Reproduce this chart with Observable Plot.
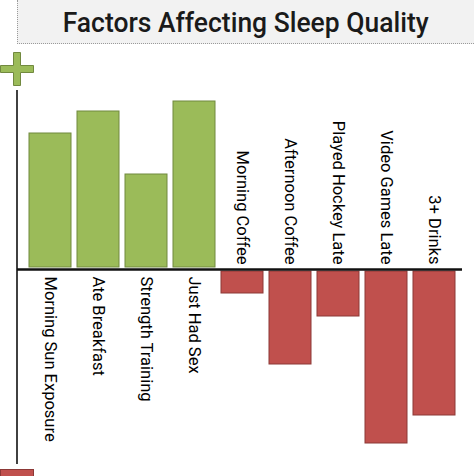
<!DOCTYPE html>
<html>
<head>
<meta charset="utf-8">
<script src="https://cdn.jsdelivr.net/npm/d3@7"></script>
<script src="https://cdn.jsdelivr.net/npm/@observablehq/plot@0.6"></script>
<style>
  html, body { margin: 0; padding: 0; background: #fff; }
  #wrap { position: relative; width: 474px; height: 476px; overflow: hidden; }
  #title {
    position: absolute; left: 17px; top: 0; width: 457px; height: 44px;
    background: #f2f2f2; border-left: 1px dotted #9a9a9a; border-bottom: 1px dotted #9a9a9a;
    box-sizing: border-box; text-align: center;
  }
  #title span {
    display: inline-block; font-family: Roboto, sans-serif; font-size: 28px; font-weight: 500;
    color: #1a1a1a; line-height: 46px; white-space: nowrap; transform-origin: center;
  }
  #plus { position: absolute; left: 0; top: 52px; }
  #minus { position: absolute; left: 0; top: 468px; }
  #chart { position: absolute; left: 0; top: 0; }
</style>
</head>
<body>
<div id="wrap">
  <div id="chart"></div>
  <div id="title"><span id="titletext">Factors Affecting Sleep Quality</span></div>
  <svg id="plus" width="34" height="34"><path d="M13.5,0.5 H20.5 V13.5 H33.5 V20.5 H20.5 V33.5 H13.5 V20.5 H0.5 V13.5 H13.5 Z" fill="#9BBB59" stroke="#71893F" stroke-width="1"/></svg>
  <svg id="minus" width="34" height="10"><rect x="0.5" y="1.5" width="33" height="9" fill="#C0504D" stroke="#8C3836" stroke-width="1"/></svg>
</div>
<script>
const categories = ["Morning Sun Exposure", "Ate Breakfast", "Strength Training", "Just Had Sex",
  "Morning Coffee", "Afternoon Coffee", "Played Hockey Late", "Video Games Late", "3+ Drinks"];
const values = [136, 158, 95, 168, -24, -95, -47, -174, -146];

const data = categories.map((c, i) => ({category: c, value: values[i]}));
const pos = data.filter(d => d.value >= 0);
const neg = data.filter(d => d.value < 0);

const chart = Plot.plot({
  width: 474,
  height: 476,
  marginLeft: 17,
  marginRight: 12,
  marginTop: 90,
  marginBottom: 12,
  style: {fontFamily: "Roboto, sans-serif", background: "transparent"},
  x: {domain: categories, paddingInner: 0.12, paddingOuter: 0.06, insetLeft: 6, axis: null},
  y: {domain: [-195, 179], axis: null},
  marks: [
    Plot.barY(pos, {x: "category", y: "value", fill: "#9BBB59", stroke: "#71893F", strokeWidth: 1, insetBottom: 2}),
    Plot.barY(neg, {x: "category", y: "value", fill: "#C0504D", stroke: "#8C3836", strokeWidth: 1, insetTop: 2}),
    Plot.ruleY([0], {stroke: "#111", strokeWidth: 2.5}),
    Plot.text(pos, {x: "category", y: 0, text: "category", rotate: 90, textAnchor: "start", dy: 7, fontSize: 16.5, fill: "#000"}),
    Plot.text(neg, {x: "category", y: 0, text: "category", rotate: 90, textAnchor: "end", dy: -5, fontSize: 16.5, fill: "#000"})
  ]
});

// vertical axis line along the y scale range
const yr = chart.scale("y").range;
d3.select(chart).append("line")
  .attr("x1", 17).attr("x2", 17)
  .attr("y1", yr[0]).attr("y2", yr[1])
  .attr("stroke", "#111").attr("stroke-width", 1.6);

document.getElementById("chart").appendChild(chart);

// condense the title to the reference's width
const t = document.getElementById("titletext");
const w = t.getBoundingClientRect().width;
if (w > 0) t.style.transform = `scaleX(${366 / w})`;
</script>
</body>
</html>
